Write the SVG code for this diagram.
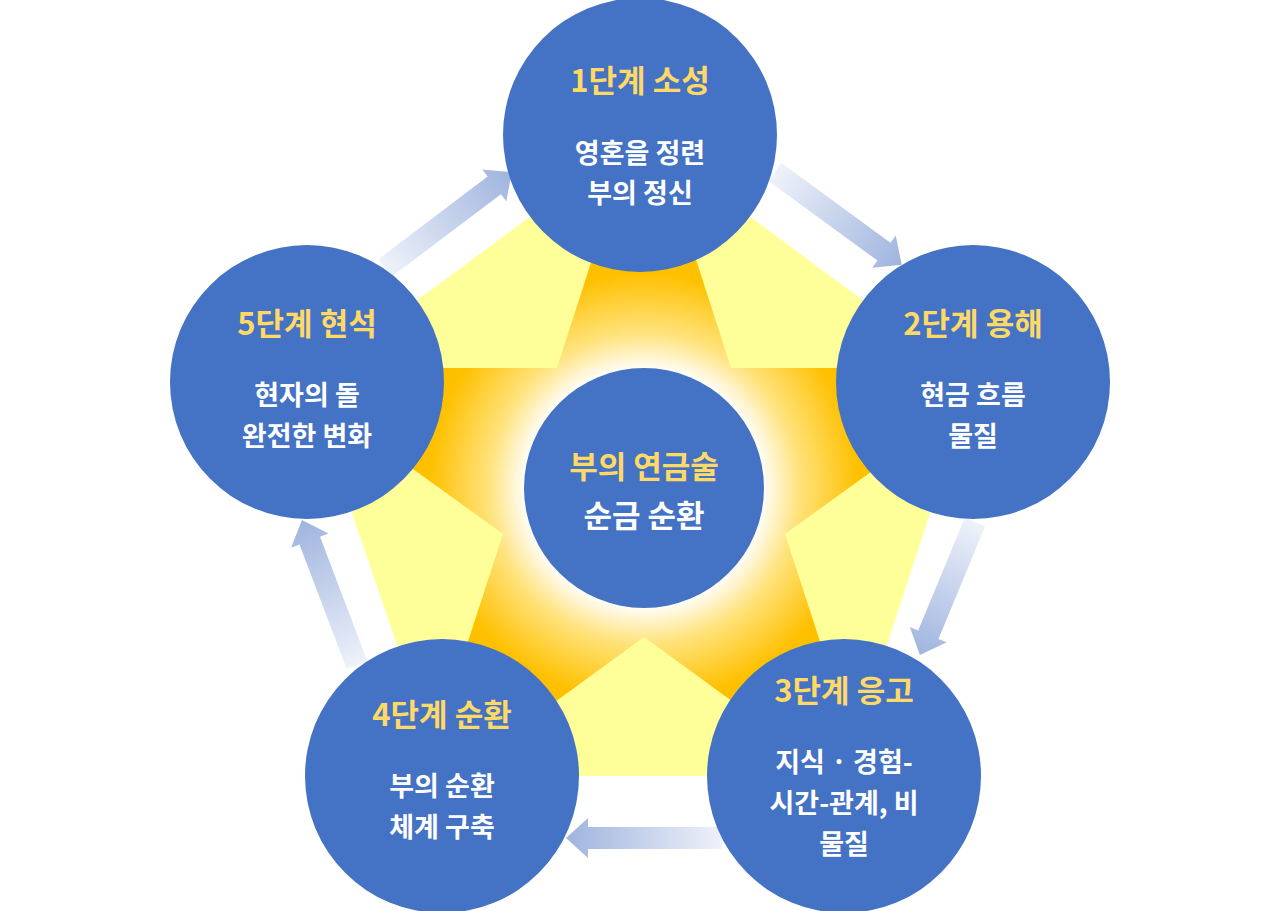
<svg xmlns="http://www.w3.org/2000/svg" width="1280" height="911" viewBox="0 0 1280 911">
<defs>
<radialGradient id="star" cx="644" cy="488" r="390" gradientUnits="userSpaceOnUse">
<stop offset="0.3" stop-color="#FFFFFF"/>
<stop offset="0.4" stop-color="#FFE27A"/>
<stop offset="0.55" stop-color="#FFC000"/>
<stop offset="1" stop-color="#F7B500"/>
</radialGradient>
<linearGradient id="arr" x1="0" y1="0" x2="1" y2="0">
<stop offset="0" stop-color="#EEF2FA"/>
<stop offset="1" stop-color="#9FB4DE"/>
</linearGradient>
<style>
.c{fill:#4472C4}
.t{font-family:"Noto Sans CJK KR","Noto Sans",sans-serif;font-weight:bold;text-anchor:middle}
.h{fill:#FFD966;font-size:31px}
.b{fill:#FFFFFF;font-size:27px}
</style>
</defs>
<polygon points="640,135 973,382 844,776 442,776 307,382" fill="#FFFF99"/>
<polygon fill="url(#star)" points="644,98 731,368 1015,368 785,534 873,804 644,637 415,804 503,534 273,368 557,368"/>
<g id="connectors">
<g transform="translate(775,172) rotate(36.2)"><path d="M0,-11 H135 V-20 L157,0 L135,20 V11 H0 Z" fill="url(#arr)"/></g>
<g transform="translate(975,522) rotate(112.5)"><path d="M0,-11 H122 V-20 L144,0 L122,20 V11 H0 Z" fill="url(#arr)"/></g>
<g transform="translate(722,838) rotate(180)"><path d="M0,-11 H134 V-20 L156,0 L134,20 V11 H0 Z" fill="url(#arr)"/></g>
<g transform="translate(357,665) rotate(249.2)"><path d="M0,-11 H133 V-20 L155,0 L133,20 V11 H0 Z" fill="url(#arr)"/></g>
<g transform="translate(385,268) rotate(-37.1)"><path d="M0,-11 H137 V-20 L159,0 L137,20 V11 H0 Z" fill="url(#arr)"/></g>
</g>
<g id="n1"><circle class="c" cx="640" cy="135" r="137"/>
<text class="t h" x="640" y="92">1단계 소성</text>
<text class="t b" x="640" y="163">영혼을 정련</text><text class="t b" x="640" y="203">부의 정신</text></g>
<g id="n2"><circle class="c" cx="973" cy="382" r="137"/>
<text class="t h" x="973" y="335">2단계 용해</text>
<text class="t b" x="973" y="405">현금 흐름</text><text class="t b" x="973" y="446">물질</text></g>
<g id="n3"><circle class="c" cx="844" cy="776" r="137"/>
<text class="t h" x="844" y="702">3단계 응고</text>
<text class="t b" x="844" y="772">지식 · 경험-</text><text class="t b" x="844" y="813">시간-관계, 비</text><text class="t b" x="844" y="854">물질</text></g>
<g id="n4"><circle class="c" cx="442" cy="776" r="137"/>
<text class="t h" x="442" y="726">4단계 순환</text>
<text class="t b" x="442" y="796">부의 순환</text><text class="t b" x="442" y="837">체계 구축</text></g>
<g id="n5"><circle class="c" cx="307" cy="382" r="137"/>
<text class="t h" x="307" y="335">5단계 현석</text>
<text class="t b" x="307" y="405">현자의 돌</text><text class="t b" x="307" y="446">완전한 변화</text></g>
<g id="center"><circle class="c" cx="644" cy="488" r="120"/>
<text class="t h" x="644" y="478">부의 연금술</text>
<text class="t b" x="644" y="527" style="font-size:31px">순금 순환</text></g>
</svg>
